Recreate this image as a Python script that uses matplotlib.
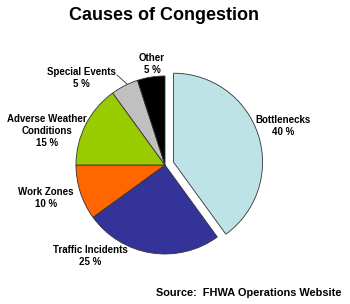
import matplotlib
matplotlib.use("Agg")
import matplotlib.pyplot as plt

plt.rcParams['font.family'] = ['Liberation Sans', 'DejaVu Sans']

# data
causes = ["Bottlenecks", "Traffic Incidents", "Work Zones",
          "Adverse Weather\nConditions", "Special Events", "Other"]
shares = [40, 25, 10, 15, 5, 5]
colors = ["#BDE3E6", "#333399", "#FF6600", "#99CC00", "#C0C0C0", "#000000"]

# label positions (pixel coords, y down)
label_pos = [(283, 126), (90, 256), (46, 198), (47, 131), (81, 78), (152, 64)]

W, H = 350, 304
fig = plt.figure(figsize=(3.5, 3.04), dpi=100)
ax = fig.add_axes([0, 0, 1, 1])

# explode is in data units here (pixels), pull Bottlenecks out ~9px
ax.pie(shares, colors=colors, explode=[9, 0, 0, 0, 0, 0], startangle=90,
       counterclock=False, center=(165, H - 165), radius=89, frame=False,
       wedgeprops=dict(edgecolor='#333333', linewidth=0.6))

ax.set_xlim(0, W)
ax.set_ylim(0, H)
ax.set_aspect('equal')
ax.axis('off')

for name, val, (x, y) in zip(causes, shares, label_pos):
    ax.text(x, H - y, f"{name}\n{val} %", ha='center', va='center',
            fontsize=7, fontweight='bold', linespacing=1.25)

# leader line for Special Events
ax.plot([117, 127], [H - 75, H - 84], color='#333333', linewidth=0.6)

fig.text(164 / W, 1 - 15 / H, "Causes of Congestion", ha='center', va='center',
         fontsize=13, fontweight='bold')
fig.text(342 / W, 1 - 293 / H, "Source:  FHWA Operations Website", ha='right',
         va='center', fontsize=7.9, fontweight='bold')

fig.savefig("out.png", dpi=100)
